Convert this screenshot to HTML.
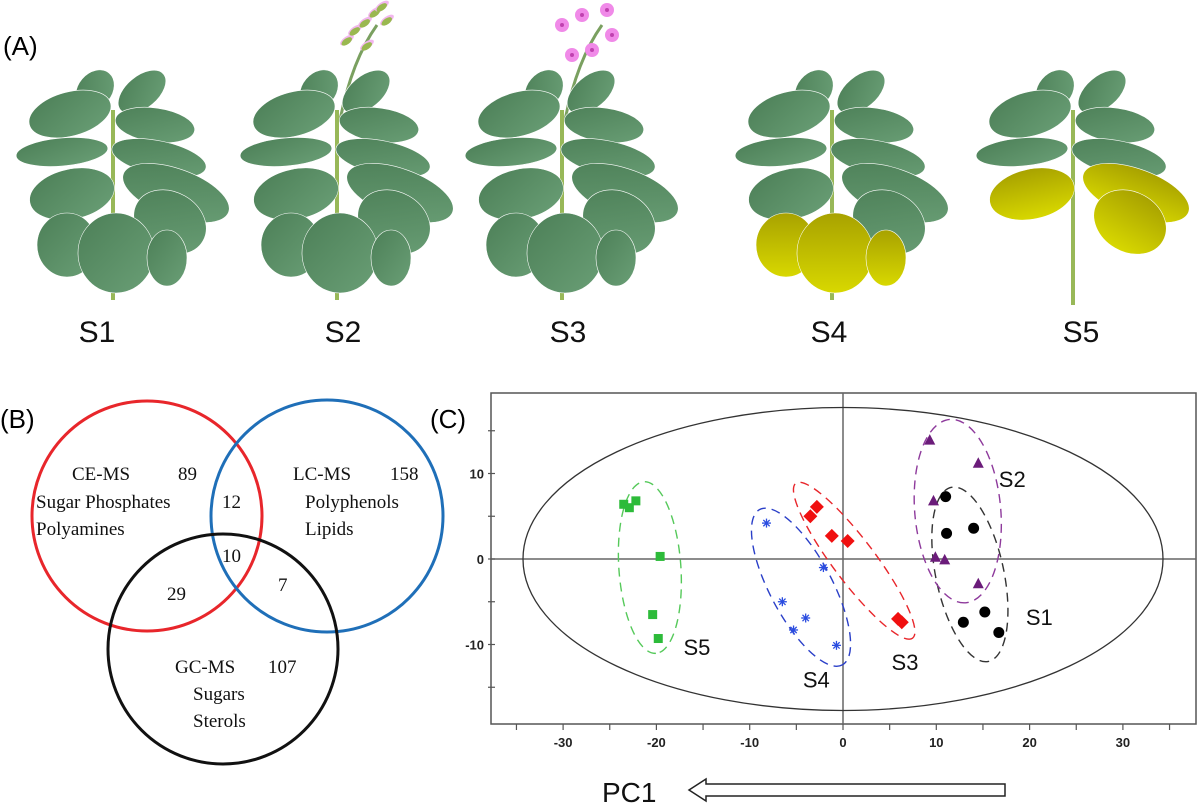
<!DOCTYPE html>
<html><head><meta charset="utf-8">
<style>
html,body{margin:0;padding:0;background:#fff;}
svg{display:block;}
.sans{font-family:"Liberation Sans",sans-serif;}
.serif{font-family:"Liberation Serif",serif;}
</style></head>
<body>
<svg id="fig" width="1200" height="805" viewBox="0 0 1200 805" xmlns="http://www.w3.org/2000/svg">
<defs>
<linearGradient id="gLeaf" x1="0" y1="0" x2="1" y2="1">
<stop offset="0" stop-color="#4c7f57"/><stop offset="1" stop-color="#6a9f76"/></linearGradient>
<linearGradient id="yLeaf" x1="0" y1="0" x2="0" y2="1">
<stop offset="0" stop-color="#a8a200"/><stop offset="1" stop-color="#d8d800"/></linearGradient>
</defs>
<g id="panelA">
<text class="sans" x="3" y="55" font-size="26">(A)</text>
</g>
<g id="panelB">
<text class="sans" x="0" y="428" font-size="26">(B)</text>
<circle cx="147" cy="516" r="115" fill="none" stroke="#e8262b" stroke-width="3"/>
<circle cx="327" cy="516" r="116" fill="none" stroke="#1f6fb8" stroke-width="3"/>
<circle cx="223" cy="649" r="115" fill="none" stroke="#111" stroke-width="3"/>
<g class="serif" font-size="19" fill="#111">
<text x="72" y="480">CE-MS</text>
<text x="178" y="480">89</text>
<text x="36" y="508">Sugar Phosphates</text>
<text x="222" y="508">12</text>
<text x="36" y="535">Polyamines</text>
<text x="293" y="480">LC-MS</text>
<text x="390" y="480">158</text>
<text x="305" y="508">Polyphenols</text>
<text x="305" y="535">Lipids</text>
<text x="222" y="562">10</text>
<text x="167" y="600">29</text>
<text x="278" y="591">7</text>
<text x="175" y="673">GC-MS</text>
<text x="268" y="673">107</text>
<text x="193" y="700">Sugars</text>
<text x="193" y="727">Sterols</text>
</g>
</g>
<g id="panelC">
<text class="sans" x="430" y="428" font-size="26">(C)</text>
</g>
</svg>
<script>
const NS='http://www.w3.org/2000/svg';
// ---- PCA data (PC1, PC2) ----
const groups=['S1','S2','S3','S4','S5'];
const s1x=[11.0,11.1,14.0,12.9,15.2,16.7];
const s1y=[7.3,3.0,3.6,-7.4,-6.2,-8.6];
const s2x=[9.3,14.5,9.7,9.9,10.9,14.5];
const s2y=[13.9,11.2,6.8,0.2,-0.1,-2.9];
const s3x=[-3.5,-2.8,-1.2,0.5,5.9,6.3];
const s3y=[5.0,6.1,2.7,2.1,-7.0,-7.4];
const s4x=[-8.2,-2.1,-6.5,-4.0,-5.3,-0.7];
const s4y=[4.2,-1.0,-5.0,-6.9,-8.3,-10.1];
const s5x=[-23.5,-22.9,-22.2,-19.6,-20.4,-19.8];
const s5y=[6.4,6.0,6.8,0.3,-6.5,-9.3];
// group ellipse centres (data units)
const ellCx=[13.6,12.3,1.2,-4.5,-20.7];
const ellCy=[-1.8,5.6,-0.2,-3.3,-1.0];
// group label positions (data units)
const labX=[19.6,16.7,5.2,-4.3,-17.1];
const labY=[-7.7,8.4,-13.0,-15.0,-11.2];
const xTicks=[-30,-20,-10,0,10,20,30];
const yTicks=[-10,0,10];

const svg=document.getElementById('fig');
const pC=document.getElementById('panelC');
const pA=document.getElementById('panelA');
function mk(tag,attrs,parent){const e=document.createElementNS(NS,tag);for(const k in attrs)e.setAttribute(k,attrs[k]);(parent||svg).appendChild(e);return e;}
const X=v=>843+v*9.33;
const Y=v=>559-v*8.55;
const box={l:491,r:1196,t:393,b:724};

let e=mk('rect',{x:box.l,y:box.t,width:box.r-box.l,height:box.b-box.t,fill:'none',stroke:'#555','stroke-width':1.5},pC);


e=mk('line',{x1:X(0),x2:X(0),y1:box.t,y2:box.b,stroke:'#666','stroke-width':1.5},pC);


e=mk('line',{x1:box.l,x2:box.r,y1:Y(0),y2:Y(0),stroke:'#666','stroke-width':1.5},pC);


e=mk('ellipse',{cx:X(0),cy:Y(0),rx:320,ry:151.5,fill:'none',stroke:'#333','stroke-width':1.3},pC);


for(let v=-35;v<=35;v+=5){
  e=mk('line',{x1:X(v),x2:X(v),y1:box.b,y2:box.b+6,stroke:'#555','stroke-width':1.2},pC);
  
  
}
for(let v=-15;v<=15;v+=5){
  e=mk('line',{x1:box.l-3,x2:box.l+4,y1:Y(v),y2:Y(v),stroke:'#555','stroke-width':1.2},pC);
  
  
}
xTicks.forEach(v=>{e=mk('text',{x:X(v),y:747,'text-anchor':'middle','font-size':13,'font-weight':'bold',class:'sans',fill:'#222'},pC);e.textContent=v;
  
  });
yTicks.forEach(v=>{e=mk('text',{x:484,y:Y(v)+5,'text-anchor':'end','font-size':13,'font-weight':'bold',class:'sans',fill:'#222'},pC);e.textContent=v;
  
  });

// ellipse shapes (pixel style): semi-axes and rotation
const ellStyle=[[89,34,78,'#333'],[92,43,85,'#8e3a9c'],[97,21,53,'#e8262b'],[88,31,62,'#2a3fc8'],[86,31,86,'#55c95a']];
ellStyle.forEach((s,i)=>{
  e=mk('ellipse',{cx:0,cy:0,rx:s[0],ry:s[1],fill:'none',stroke:s[3],'stroke-width':1.4,'stroke-dasharray':'9 6',transform:`translate(${X(ellCx[i])},${Y(ellCy[i])}) rotate(${s[2]})`},pC);
  
  
});
function circ(x,y){e=mk('circle',{cx:x,cy:y,r:5.5,fill:'#000'},pC);}
function tri(x,y){e=mk('polygon',{points:`${x},${y-6} ${x-5.5},${y+4.5} ${x+5.5},${y+4.5}`,fill:'#6b1c7a'},pC);}
function dia(x,y){e=mk('polygon',{points:`${x},${y-7} ${x+7},${y} ${x},${y+7} ${x-7},${y}`,fill:'#f01010'},pC);}
function star(x,y){const g=mk('g',{stroke:'#2b4de0','stroke-width':1.3},pC);
  for(let a=0;a<180;a+=45){const r=4.5,c=Math.cos(a*Math.PI/180)*r,s=Math.sin(a*Math.PI/180)*r;mk('line',{x1:x-c,y1:y-s,x2:x+c,y2:y+s},g);}}
function sq(x,y){e=mk('rect',{x:x-4.5,y:y-4.5,width:9,height:9,fill:'#2dbb3a'},pC);}
s1x.forEach((v,i)=>circ(X(v),Y(s1y[i])));
s2x.forEach((v,i)=>tri(X(v),Y(s2y[i])));
s3x.forEach((v,i)=>dia(X(v),Y(s3y[i])));
s4x.forEach((v,i)=>star(X(v),Y(s4y[i])));
s5x.forEach((v,i)=>sq(X(v),Y(s5y[i])));
groups.forEach((g,i)=>{e=mk('text',{x:X(labX[i]),y:Y(labY[i]),'font-size':22,class:'sans',fill:'#111'},pC);e.textContent=g;
  
  });
e=mk('text',{x:602,y:802,'font-size':28,class:'sans',fill:'#111'},pC);e.textContent='PC1';


e=mk('path',{d:'M689 790 L706 779 L706 784 L1005 784 L1005 796 L706 796 L706 801 Z',fill:'#fff',stroke:'#222','stroke-width':1.5},pC);



// ---- plants ----
const leaves=[[-18,90,22,17,-50],[29,92,28,16,-40],[-43,114,42,22,-15],[42,125,40,17,8],[-51,152,46,14,-5],[46,158,48,17,12],
[-41,194,43,25,-12],[63,193,56,24,20],[57,222,38,30,30],[-46,245,30,32,0],[3,253,38,40,0],[54,258,20,28,0]];
const plantStem=[113,337,562,832,1073];
const plantNames=['S1','S2','S3','S4','S5'];
const labCx=[97,343,568,829,1081];
function plant(sx,idx){
  const g=mk('g',{},pA);
  
  
  const stemBottom=300;
  if(idx===1||idx===2){
    mk('path',{d:`M${sx+3} 120 Q${sx+15} 60 ${sx+40} 25`,stroke:'#7aa060','stroke-width':3,fill:'none'},g);
    const buds=idx===1?[[10,40],[18,30],[28,22],[38,12],[45,6],[50,20],[30,45]]:[[0,25],[20,15],[45,10],[50,35],[30,50],[10,55]];
    buds.forEach(b=>{
      if(idx===1){mk('ellipse',{cx:sx+b[0],cy:b[1],rx:8,ry:3.5,fill:'#f2b6ee',transform:`rotate(-35 ${sx+b[0]} ${b[1]})`},g);
        mk('ellipse',{cx:sx+b[0]-1,cy:b[1]+1,rx:6,ry:3,fill:'#9ab850',transform:`rotate(-35 ${sx+b[0]} ${b[1]})`},g);}
      else{mk('circle',{cx:sx+b[0],cy:b[1],r:7,fill:'#f08ae8'},g);mk('circle',{cx:sx+b[0],cy:b[1],r:2,fill:'#c040b0'},g);}
    });
  }
  mk('line',{x1:sx,y1:110,x2:sx,y2:stemBottom+(idx===4?5:0),stroke:'#98b858','stroke-width':4},g);
  leaves.forEach((l,k)=>{
    if(idx===4&&k>=9)return;
    let fill='url(#gLeaf)';
    if(idx===3&&k>=9)fill='url(#yLeaf)';
    if(idx===4&&k>=6)fill='url(#yLeaf)';
    let cy=l[1];
    mk('ellipse',{cx:0,cy:0,rx:l[2],ry:l[3],fill:fill,stroke:'#fff','stroke-width':0.6,transform:`translate(${sx+l[0]},${cy}) rotate(${l[4]})`},g);
  });
  const t=mk('text',{x:labCx[idx],y:342,'text-anchor':'middle','font-size':30,class:'sans',fill:'#111'},pA);
  t.textContent=plantNames[idx];
  
  
}
plantStem.forEach((sx,i)=>plant(sx,i));
</script>
</body></html>
